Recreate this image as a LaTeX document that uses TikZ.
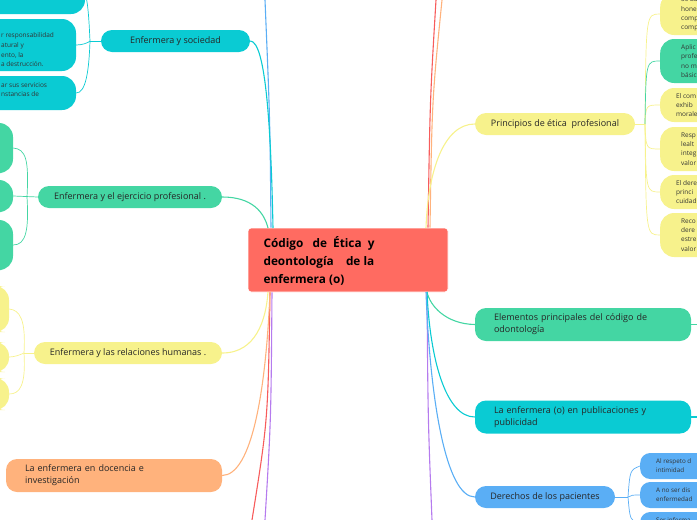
\documentclass[tikz,border=0pt]{standalone}
\usepackage{fontspec}
\setmainfont{Open Sans}
\definecolor{cred}{HTML}{FF6B61}
\definecolor{ccyan}{HTML}{0ACBD3}
\definecolor{cgreen}{HTML}{44D6A3}
\definecolor{cyel}{HTML}{F7F28C}
\definecolor{corg}{HTML}{FFB27C}
\definecolor{cblue}{HTML}{5AAEF5}
\definecolor{cpur}{HTML}{B57BEE}
\definecolor{cred2}{HTML}{F75C5C}
\begin{document}
\begin{tikzpicture}[x=1pt,y=-1pt,
  mainbox/.style={rounded corners=11pt,inner sep=0pt,font=\fontsize{9}{12}\selectfont,text=black!85},
  subbox/.style={rounded corners=14pt,inner sep=0pt,font=\fontsize{6.5}{10}\selectfont,text=black!80},
  subtext/.style={anchor=west,inner sep=0pt,font=\fontsize{6.5}{9}\selectfont,text=black!80},
  conn/.style={line width=1.1pt},
  thin/.style={line width=0.7pt}]
\useasboundingbox (0,0) rectangle (697,520);
\begin{scope}
\clip (0,0) rectangle (697,520);
% long lines off-picture
\draw[conn,cblue] (271,228) .. controls (270,120) .. (265,0);
\draw[conn,cred2] (428,228) .. controls (430,100) .. (436,0);
\draw[conn,corg] (430,228) .. controls (432,100) .. (442,0);
\draw[conn,cred2] (270,292) .. controls (268,420) .. (252,520);
\draw[conn,cpur] (272,292) .. controls (271,420) .. (265,520);
\draw[conn,cpur] (427,292) .. controls (428,420) .. (432,520);
% center
\node[fill=cred,rounded corners=3pt,minimum width=200pt,minimum height=64pt,inner sep=0pt,draw=white,line width=0.8pt] (c) at (348,260) {};
\node[anchor=north west,align=left,font=\fontsize{11.8}{18}\selectfont\bfseries,text=black] (ct) at (260,233) {Código~~~de~~Ética~~y\\deontología~~~~de la\\enfermera (o)};
% left mains
\node[mainbox,fill=ccyan,minimum width=149pt,minimum height=22pt] (soc) at (175.5,41) {Enfermera y sociedad};
\node[mainbox,fill=cgreen,minimum width=184pt,minimum height=22pt] (eje) at (130,197) {Enfermera y el ejercicio profesional .};
\node[mainbox,fill=cyel,minimum width=188pt,minimum height=22pt] (rel) at (128,353) {Enfermera y las relaciones humanas .};
\node[mainbox,fill=corg,minimum width=216pt,minimum height=33pt,text width=178pt,align=left] (doc) at (114,475.5) {La enfermera en docencia e\\investigación};
% right mains
\node[mainbox,fill=cyel,minimum width=160pt,minimum height=22pt] (pri) at (555,124) {Principios de ética~ profesional};
\node[mainbox,fill=cgreen,minimum width=216pt,minimum height=33pt,text width=178pt,align=left] (ele) at (583,324.5) {Elementos principales del código de\\odontología};
\node[mainbox,fill=ccyan,minimum width=216pt,minimum height=33pt,text width=178pt,align=left] (pub) at (583,417) {La enfermera (o) en publicaciones y\\publicidad};
\node[mainbox,fill=cblue,minimum width=140pt,minimum height=22pt] (der) at (545,497) {Derechos de los pacientes};
% main connectors
\draw[conn,ccyan] (soc.east) .. controls (266,41) and (271,130) .. (273,228);
\draw[conn,cgreen] (eje.east) .. controls (252,197) and (264,212) .. (268,228);
\draw[conn,cyel] (rel.east) .. controls (256,353) and (266,320) .. (268,292);
\draw[conn,corg] (doc.east) .. controls (252,475) and (266,390) .. (270,292);
\draw[conn,cyel] (pri.west) .. controls (444,124) and (428,170) .. (426,228);
\draw[conn,cgreen] (ele.west) .. controls (446,324) and (430,306) .. (427,292);
\draw[conn,ccyan] (pub.west) .. controls (446,417) and (430,360) .. (427,292);
\draw[conn,cblue] (der.west) .. controls (446,497) and (430,400) .. (426,292);
\draw[conn,cgreen] (ele.east) -- (697,324.5);
\draw[conn,ccyan] (pub.east) -- (697,417);
% sociedad children
\node[subbox,fill=ccyan,minimum width=170pt,minimum height=40pt] (s1) at (0,-6) {};
\node[subbox,fill=ccyan,minimum width=152pt,minimum height=52pt] (s2) at (0,45) {};
\node[subbox,fill=ccyan,minimum width=152pt,minimum height=34pt] (s3) at (0,93) {};
\node[subtext] (s2a) at (1,36) {r responsabilidad};
\node[subtext] (s2b) at (1,45.5) {atural y};
\node[subtext] (s2c) at (1,55) {ento, la};
\node[subtext] (s2d) at (1,64) {a destrucción.};
\node[subtext] (s3a) at (1,85) {ar sus servicios};
\node[subtext] (s3b) at (1,94.5) {nstancias de};
\draw[thin,ccyan] (soc.west) -- (90,41);
\draw[thin,ccyan] (90,41) .. controls (89,20) and (88,2) .. (s1.east);
\draw[thin,ccyan] (90,41) .. controls (88,43) and (82,45) .. (s2.east);
\draw[thin,ccyan] (90,41) .. controls (89,70) and (86,93) .. (s3.east);
% ejercicio children
\node[subbox,fill=cgreen,minimum width=26pt,minimum height=50pt] (e1) at (0,148) {};
\node[subbox,fill=cgreen,minimum width=26pt,minimum height=32pt] (e2) at (0,196) {};
\node[subbox,fill=cgreen,minimum width=26pt,minimum height=50pt] (e3) at (0,245) {};
\draw[thin,cgreen] (eje.west) -- (e2.east);
\draw[thin,cgreen] (27,197) .. controls (29,160) and (26,149) .. (e1.east);
\draw[thin,cgreen] (27,197) .. controls (29,230) and (26,245) .. (e3.east);
% relaciones children
\node[subbox,fill=cyel,minimum width=18pt,minimum height=46pt] (r1) at (0,309) {};
\node[subbox,fill=cyel,minimum width=18pt,minimum height=30pt] (r2) at (0,357) {};
\node[subbox,fill=cyel,minimum width=18pt,minimum height=32pt] (r3) at (0,394) {};
\draw[thin,cyel] (rel.west) -- (24,353);
\draw[thin,cyel] (24,353) .. controls (26,320) and (20,310) .. (r1.east);
\draw[thin,cyel] (24,353) .. controls (20,355) and (14,357) .. (r2.east);
\draw[thin,cyel] (24,353) .. controls (26,385) and (20,394) .. (r3.east);
% principios children
\def\pbox#1#2#3#4#5#6{\node[subbox,fill=#2,minimum width=100pt,minimum height=#4pt,anchor=west] (#1) at (660,#3) {};
 \node[anchor=west,align=left,font=\fontsize{6.5}{9.3}\selectfont,text=black!80,inner sep=0pt] at ([xshift=#5pt]#1.west) {#6};}
\pbox{p1}{cyel}{14}{42}{21}{Se ba\\hone\\comp\\comp}
\pbox{p2}{cgreen}{61}{44}{21}{Aplic\\profe\\no m\\básic}
\pbox{p3}{cyel}{105}{34}{16}{El com\\exhib\\morale}
\pbox{p4}{cyel}{149}{44}{21}{Resp\\lealt\\integ\\valor}
\pbox{p5}{cyel}{192}{34}{16}{El dere\\princi\\cuidad}
\pbox{p6}{cyel}{235}{44}{21}{Reco\\dere\\estre\\valor}
\draw[thin,cyel] (pri.east) -- (645,124);
\foreach \n/\y in {p1/14,p3/105,p4/149,p5/192,p6/235}{\draw[thin,cyel] (645,124) .. controls (646,\y) .. (\n.west);}
\draw[thin,cgreen] (645,124) .. controls (646,61) .. (p2.west);
% derechos children
\def\dbox#1#2#3{\node[subbox,fill=cblue,minimum width=100pt,minimum height=26pt,anchor=west,rounded corners=10pt] (#1) at (640,#2) {};
 \node[anchor=west,align=left,font=\fontsize{6.3}{9}\selectfont,text=black!80,inner sep=0pt] at ([xshift=16pt]#1.west) {#3};}
\dbox{d1}{466}{Al respeto d\\intimidad}
\dbox{d2}{495}{A no ser dis\\enfermedad}
\dbox{d3}{525}{Ser informa\\\phantom{x}}
\draw[thin,cblue] (der.east) -- (628,497);
\draw[thin,cblue] (628,497) .. controls (630,470) .. (d1.west);
\draw[thin,cblue] (628,497) .. controls (632,495) .. (d2.west);
\draw[thin,cblue] (628,497) .. controls (630,520) .. (d3.west);
\end{scope}
\end{tikzpicture}
\end{document}
